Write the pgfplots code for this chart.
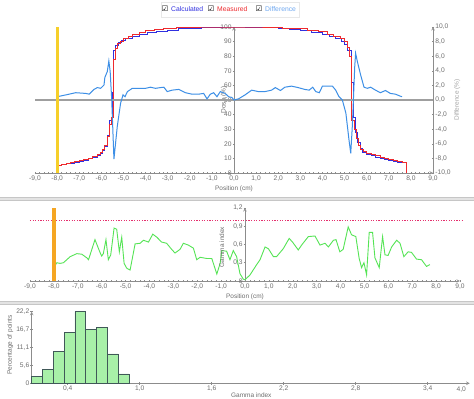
\documentclass[border=0pt]{standalone}
\usepackage{fontspec}
\setmainfont{Liberation Sans}
\newfontfamily\dejavu{DejaVu Sans}
\usepackage{pgfplots}
\pgfplotsset{compat=1.18}
\definecolor{axgray}{HTML}{8C8C8C}
\definecolor{lblgray}{HTML}{6E6E6E}
\definecolor{calcblue}{HTML}{3030E0}
\definecolor{measred}{HTML}{EE2A2E}
\definecolor{diffblue}{HTML}{3D8FE6}
\definecolor{difftext}{HTML}{6FA8F0}
\definecolor{gammagreen}{HTML}{55E455}
\definecolor{histfill}{HTML}{A8F0A8}
\definecolor{histedge}{HTML}{405858}
\definecolor{curyellow}{HTML}{F6CF2A}
\definecolor{curorange}{HTML}{F5A623}
\definecolor{dotpink}{HTML}{E5306E}
\pgfplotsset{
  common/.style={
    scale only axis, anchor=south west, clip=false,
    axis line style={-, draw=axgray, line width=0.6bp},
    every inner x axis line/.append style={-},
    every outer x axis line/.append style={-},
    every inner y axis line/.append style={-},
    every outer y axis line/.append style={-},
    tick style={draw=axgray, line width=0.5bp},
    major tick length=2.5bp, minor tick length=1.5bp,
    tick align=outside,
    tick label style={font=\fontsize{6.7}{7}\selectfont, text=lblgray, inner sep=1bp},
    label style={font=\fontsize{6.5}{7}\selectfont, text=lblgray},
    /pgf/number format/assume math mode=true,
    hide obscured x ticks=false, hide obscured y ticks=false,
  },
  onedec/.style={/pgf/number format/.cd, fixed, fixed zerofill, precision=1, use comma},
}
\begin{document}
\begin{tikzpicture}
\useasboundingbox (0,0) rectangle (474bp,399bp);
\fill[white] (0,0) rectangle (474bp,399bp);
% separators
\fill[gray!22] (0,199bp) rectangle (474bp,202bp);
\draw[gray!45, line width=0.5bp] (0,199bp) -- (474bp,199bp) (0,202bp) -- (474bp,202bp);
\fill[gray!22] (0,95bp) rectangle (474bp,98bp);
\draw[gray!45, line width=0.5bp] (0,95bp) -- (474bp,95bp) (0,98bp) -- (474bp,98bp);
% legend
\draw[gray!18, line width=0.5bp] (161bp,382bp) rectangle (299bp,397bp);
\node[font=\dejavu\fontsize{7.5}{8}\selectfont, inner sep=0] at (165bp,390bp) {☑};
\node[anchor=west, inner sep=0, font=\fontsize{6.8}{8}\selectfont, text=calcblue] at (171bp,390bp) {Calculated};
\node[font=\dejavu\fontsize{7.5}{8}\selectfont, inner sep=0] at (211bp,390bp) {☑};
\node[anchor=west, inner sep=0, font=\fontsize{6.8}{8}\selectfont, text=measred] at (217bp,390bp) {Measured};
\node[font=\dejavu\fontsize{7.5}{8}\selectfont, inner sep=0] at (259bp,390bp) {☑};
\node[anchor=west, inner sep=0, font=\fontsize{6.8}{8}\selectfont, text=difftext] at (265bp,390bp) {Difference};

% ---------- top panel: dose ----------
\begin{axis}[common, at={(35bp,226bp)}, width=398bp, height=146bp,
  xmin=-9, xmax=9, ymin=0, ymax=100,
  axis x line=bottom, axis y line=center,
  xtick={-9,-8,-7,-6,-5,-4,-3,-2,-1,0,1,2,3,4,5,6,7,8,9}, minor x tick num=4,
  ytick={0,10,20,30,40,50,60,70,80,90,100},
  xticklabel style={onedec},
  xlabel={Position (cm)},
]
\addplot[const plot, calcblue, line width=0.65bp] coordinates {
(-8.0,5.5) (-7.8,5.8) (-7.6,6.3) (-7.4,6.9) (-7.2,7.5) (-7.0,8.2) (-6.8,9.0)
(-6.6,9.9) (-6.4,10.9) (-6.2,12.2) (-6.05,13.6) (-5.95,15.5) (-5.85,18)
(-5.75,26) (-5.65,36) (-5.52,55) (-5.45,84) (-5.35,87.5) (-5.25,89.5) (-5.1,91)
(-4.9,92.3) (-4.6,93.4) (-4.3,94.8) (-3.9,96.3) (-3.5,97.2) (-3.0,98)
(-2.5,98.8) (-2.0,99.2) (-1.5,99.7) (-1.0,100) (0,100) (1.0,99.9) (1.5,99.6)
(2.0,99.1) (2.5,98.6) (3.0,97.8) (3.5,96.5) (4.0,95.0) (4.3,93.6) (4.6,92.2)
(4.85,90.5) (5.0,88) (5.12,84) (5.3,62) (5.4,38) (5.5,28) (5.6,21) (5.7,17)
(5.82,14.5) (6.0,13.0) (6.2,12.0) (6.4,11.0) (6.6,10.2) (6.8,9.4) (7.0,8.8)
(7.2,8.2) (7.4,7.6) (7.6,7.1) (7.78,6.8)};
\addplot[const plot, measred, line width=0.65bp] coordinates {
(-8.05,0) (-8.05,5.3) (-7.8,5.9) (-7.6,6.5) (-7.4,7.1) (-7.2,7.8) (-7.0,8.5)
(-6.8,9.3) (-6.6,10.2) (-6.4,11.3) (-6.2,12.6) (-6.05,14.0) (-5.95,16.0)
(-5.85,19.0) (-5.75,25.0) (-5.65,33.0) (-5.55,38.0) (-5.48,78.0) (-5.38,85.5)
(-5.28,88.5) (-5.15,90.5) (-5.0,92.0) (-4.8,93.8) (-4.6,95.3) (-4.3,96.6)
(-4.0,97.6) (-3.6,98.5) (-3.2,99.2) (-2.6,99.7) (-2.0,100) (-1.0,100) (0.0,100)
(1.0,100) (1.6,99.8) (2.2,99.4) (2.8,98.8) (3.3,97.9) (3.8,96.7) (4.2,95.2)
(4.5,93.8) (4.8,92.0) (5.0,90.0) (5.12,86) (5.22,80) (5.32,36) (5.42,30)
(5.52,24) (5.62,19) (5.72,16.5) (5.85,15.0) (6.0,13.8) (6.2,12.7) (6.4,11.8)
(6.6,11.0) (6.8,10.2) (7.0,9.5) (7.2,8.8) (7.4,8.2) (7.6,7.6) (7.78,7.3) (7.78,0)};
\node[rotate=90, font=\fontsize{6.5}{7}\selectfont, text=lblgray] at (axis cs:-0.45,50) {Dose (\%)};
\end{axis}

% ---------- top panel: difference ----------
\begin{axis}[common, at={(35bp,226bp)}, width=398bp, height=146bp,
  xmin=-9, xmax=9, ymin=-10, ymax=10,
  axis x line=none, axis y line=right,
  ytick={-10,-8,-6,-4,-2,0,2,4,6,8,10},
  yticklabel style={onedec},
]
\addplot[gray!75, line width=1.8bp] coordinates {(-9,0) (9,0)};
\addplot[diffblue, line width=1bp] coordinates {
(-8.0,0.45) (-7.6,0.7) (-7.16,1.0) (-6.7,0.9) (-6.55,0.8) (-6.33,1.45) (-6.18,1.7)
(-6.03,1.6) (-5.88,2.05) (-5.84,3.1) (-5.73,3.9) (-5.66,5.35) (-5.6,3.9)
(-5.53,0) (-5.43,-8.1) (-5.28,-3.65) (-5.13,-0.45) (-5.02,0.7) (-4.93,0.45)
(-4.82,1.15) (-4.6,1.6) (-4.3,1.6) (-4.0,1.6) (-3.78,1.75) (-3.55,1.6)
(-3.32,1.7) (-3.17,1.75) (-3.02,1.15) (-2.8,1.35) (-2.5,1.45) (-2.2,1.0)
(-1.9,0.8) (-1.6,0.8) (-1.37,0.9) (-1.22,0.15) (-1.07,0.8) (-0.92,1.0)
(-0.77,0.45) (-0.62,1.15) (-0.4,0.9) (-0.24,0.45) (-0.1,0.35) (0,0) (0.2,0.15)
(0.5,0.7) (0.8,1.35) (1.1,1.15) (1.4,1.15) (1.7,1.35) (1.87,1.7) (2.1,1.3)
(2.3,1.75) (2.6,1.9) (2.9,1.7) (3.2,1.45) (3.4,1.35) (3.56,1.75) (3.7,1.15)
(3.86,1.0) (4.0,1.9) (4.23,1.9) (4.45,1.9) (4.6,1.35) (4.75,0.45) (4.9,0)
(5.06,-1.8) (5.2,-5.45) (5.28,-7.3) (5.35,-3.65) (5.4,0) (5.46,4.55) (5.5,6.4)
(5.58,5.25) (5.73,3.4) (5.88,1.75) (6.03,1.6) (6.18,1.75) (6.4,1.35) (6.62,1.0)
(6.85,1.3) (7.07,0.9) (7.3,0.8) (7.5,0.55) (7.6,0.45)};
\addplot[curyellow, line width=3bp] coordinates {(-8,-10) (-8,10)};
\node[rotate=90, font=\fontsize{6.5}{7}\selectfont, text=gray!70] at (axis cs:10.09,0) {Difference (\%)};
\end{axis}

% ---------- middle panel: gamma ----------
\begin{axis}[common, at={(30bp,118bp)}, width=430bp, height=73bp,
  xmin=-9, xmax=9, ymin=0, ymax=1.2,
  axis x line=bottom, axis y line=center,
  xtick={-9,-8,-7,-6,-5,-4,-3,-2,-1,0,1,2,3,4,5,6,7,8,9}, minor x tick num=4,
  ytick={0,0.3,0.6,0.9,1.2}, yticklabels={0,{0,3},{0,6},{0,9},{1,2}},
  xticklabel style={onedec},
  xlabel={Position (cm)},
]
\addplot[dotpink, line width=1bp, dash pattern=on 1.2bp off 1.4bp] coordinates {(-9,1) (9.1,1)};
\addplot[gammagreen, line width=0.9bp] coordinates {
(-8.02,0.21) (-7.88,0.30) (-7.74,0.29) (-7.6,0.30) (-7.32,0.40) (-7.04,0.45)
(-6.83,0.44) (-6.62,0.38) (-6.55,0.35) (-6.28,0.68) (-6.07,0.47) (-6.0,0.41)
(-5.93,0.45) (-5.82,0.68) (-5.72,0.35) (-5.62,0.43) (-5.48,0.87) (-5.37,0.85)
(-5.26,0.48) (-5.16,0.72) (-5.06,0.29) (-4.95,0.21) (-4.81,0.18) (-4.6,0.61)
(-4.39,0.62) (-4.25,0.67) (-4.04,0.64) (-3.86,0.77) (-3.69,0.72) (-3.49,0.64)
(-3.28,0.62) (-3.07,0.52) (-2.93,0.46) (-2.72,0.52) (-2.58,0.62) (-2.37,0.59)
(-2.16,0.54) (-2.02,0.35) (-1.88,0.39) (-1.6,0.37) (-1.39,0.37) (-1.18,0.115)
(-1.04,0.29) (-0.97,0.50) (-0.77,0.49) (-0.63,0.35) (-0.49,0.50) (-0.35,0.40)
(-0.21,0.12) (-0.07,0.03) (0.0,0.02) (0.21,0.1) (0.49,0.27) (0.63,0.35)
(0.84,0.56) (0.98,0.53) (1.19,0.40) (1.32,0.40) (1.6,0.53) (1.85,0.70)
(1.99,0.64) (2.23,0.51) (2.37,0.59) (2.65,0.73) (2.93,0.74) (3.14,0.59)
(3.35,0.62) (3.49,0.56) (3.70,0.67) (3.81,0.68) (3.97,0.48) (4.11,0.52)
(4.32,0.89) (4.46,0.76) (4.64,0.73) (4.78,0.37) (4.88,0.22) (4.98,0.30)
(5.09,0.10) (5.2,0.80) (5.34,0.80) (5.44,0.38) (5.62,0.22) (5.76,0.73)
(5.86,0.43) (5.99,0.42) (6.14,0.56) (6.35,0.67) (6.49,0.62) (6.65,0.40)
(6.83,0.48) (6.97,0.47) (7.18,0.36) (7.39,0.35) (7.6,0.24) (7.74,0.27)};
\addplot[curorange, line width=3.3bp] coordinates {(-8,0) (-8,1.2)};
\node[rotate=90, font=\fontsize{6.5}{7}\selectfont, text=lblgray] at (axis cs:-0.97,0.56) {Gamma index};
\end{axis}

% ---------- bottom panel: histogram ----------
\begin{axis}[common, at={(31.7bp,15.7bp)}, width=438bp, height=71.6bp,
  xmin=0.1, xmax=3.75, ymin=0, ymax=22.2,
  axis x line=bottom, axis y line=left,
  xtick={0.4,1.0,1.6,2.2,2.8,3.4}, xticklabels={{0,4},{1,0},{1,6},{2,2},{2,8},{3,4}},
  minor x tick num=1,
  ytick={0,5.55,11.1,16.65,22.2}, yticklabels={0,{5,6},{11,1},{16,7},{22,2}},
]
\addplot[ybar interval, fill=histfill, draw=histedge, line width=0.6bp] coordinates {
(0.10,2.05) (0.19,4.3) (0.28,9.8) (0.37,15.9) (0.46,22.2) (0.55,16.7)
(0.64,17.4) (0.73,9.1) (0.82,2.9) (0.91,0)};
\node[anchor=north, inner sep=1bp, font=\fontsize{6.7}{7}\selectfont, text=lblgray] at (axis cs:3.68,-0.8) {4,0};
\node[rotate=90, font=\fontsize{6.5}{7}\selectfont, text=lblgray] at (axis cs:-0.08,11.9) {Percentage of points};
\node[font=\fontsize{6.5}{7}\selectfont, text=lblgray] at (axis cs:1.93,-3.6) {Gamma index};
\end{axis}
\end{tikzpicture}
\end{document}
